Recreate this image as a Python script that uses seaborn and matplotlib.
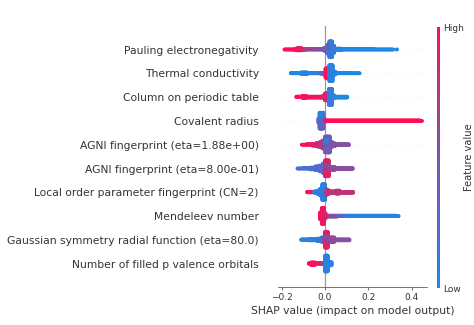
import numpy as np
import pandas as pd
import matplotlib
matplotlib.use("Agg")
import matplotlib.pyplot as plt
from matplotlib.colors import LinearSegmentedColormap, Normalize
from matplotlib.cm import ScalarMappable
import seaborn as sns

# Features, most important first
features = [
    "Pauling electronegativity",
    "Thermal conductivity",
    "Column on periodic table",
    "Covalent radius",
    "AGNI fingerprint (eta=1.88e+00)",
    "AGNI fingerprint (eta=8.00e-01)",
    "Local order parameter fingerprint (CN=2)",
    "Mendeleev number",
    "Gaussian symmetry radial function (eta=80.0)",
    "Number of filled p valence orbitals",
]

# SHAP-value density per feature:
# (shap_from, shap_to, samples per step, normalized feature value 0=low 1=high)
pauling = [
    (-0.188, -0.14, 1, 1.0), (-0.14, -0.13, 3, 1.0), (-0.13, -0.105, 6, 0.95),
    (-0.105, -0.09, 3, 0.85), (-0.09, -0.05, 2, 0.7), (-0.05, -0.005, 2, 0.55),
    (-0.005, 0.01, 8, 0.4), (0.01, 0.02, 22, 0.3),
    (0.02, 0.035, 28, 0.1), (0.02, 0.035, 12, 0.45),
    (0.035, 0.045, 18, 0.1), (0.045, 0.08, 4, 0.05), (0.08, 0.23, 2, 0.0),
    (0.23, 0.318, 1, 0.0), (0.33, 0.335, 1, 0.0),
]
thermal = [
    (-0.157, -0.11, 2, 0.0), (-0.11, -0.08, 5, 0.02), (-0.08, -0.02, 2, 0.05),
    (-0.02, 0.003, 3, 0.3), (0.003, 0.02, 24, 1.0),
    (0.02, 0.038, 40, 0.05), (0.038, 0.05, 8, 0.05),
    (0.05, 0.12, 2, 0.0), (0.12, 0.163, 1, 0.0),
]
column = [
    (-0.132, -0.105, 2, 1.0), (-0.105, -0.085, 6, 1.0), (-0.085, -0.01, 3, 0.95),
    (-0.01, 0.0, 6, 0.85), (0.0, 0.018, 18, 0.85),
    (0.018, 0.035, 40, 0.1), (0.035, 0.045, 8, 0.05), (0.045, 0.105, 3, 0.0),
]
covalent = [
    (-0.03, -0.025, 12, 0.3),
    (-0.025, -0.005, 20, 0.35), (-0.025, -0.005, 20, 0.1),
    (-0.005, 0.0, 12, 0.3), (0.0, 0.44, 2, 1.0), (0.44, 0.45, 1, 1.0),
]
agni_188 = [
    (-0.108, -0.085, 1, 1.0), (-0.085, -0.06, 2, 0.95), (-0.06, -0.04, 5, 0.9),
    (-0.04, -0.025, 9, 0.85), (-0.025, -0.012, 13, 0.8), (-0.012, 0.0, 20, 0.7),
    (0.0, 0.025, 22, 0.45), (0.0, 0.025, 18, 0.1),
    (0.025, 0.035, 14, 0.4), (0.035, 0.05, 7, 0.5), (0.05, 0.112, 3, 0.55),
]
agni_080 = [
    (-0.128, -0.1, 1, 0.2), (-0.1, -0.07, 2, 0.2), (-0.07, -0.045, 5, 0.2),
    (-0.045, -0.025, 10, 0.2), (-0.025, -0.01, 15, 0.25), (-0.01, 0.0, 24, 0.3),
    (0.0, 0.02, 25, 0.9), (0.0, 0.02, 15, 0.6),
    (0.02, 0.05, 7, 0.6), (0.05, 0.13, 3, 0.55),
]
local_order = [
    (-0.082, -0.05, 2, 1.0), (-0.05, -0.035, 4, 0.1), (-0.035, -0.022, 9, 0.05),
    (-0.022, -0.012, 18, 0.05), (-0.012, 0.003, 40, 0.05),
    (0.003, 0.012, 14, 0.55), (0.012, 0.025, 8, 0.85), (0.025, 0.05, 5, 0.75),
    (0.05, 0.07, 8, 0.8), (0.07, 0.133, 3, 0.8),
]
mendeleev = [
    (-0.022, -0.016, 18, 0.95), (-0.016, -0.002, 40, 0.95), (-0.002, 0.004, 14, 0.9),
    (0.004, 0.025, 3, 0.85), (0.025, 0.06, 3, 0.5), (0.06, 0.1, 2, 0.3),
    (0.1, 0.33, 2, 0.03), (0.33, 0.342, 1, 0.03),
]
gaussian = [
    (-0.11, -0.075, 2, 0.05), (-0.075, -0.035, 4, 0.05), (-0.035, -0.015, 7, 0.1),
    (-0.015, 0.0, 12, 0.3),
    (0.0, 0.016, 25, 0.9), (0.0, 0.016, 15, 0.55),
    (0.016, 0.045, 12, 0.6), (0.045, 0.115, 3, 0.55),
]
p_orbitals = [
    (-0.074, -0.066, 2, 1.0), (-0.066, -0.045, 7, 1.0), (-0.045, -0.015, 2, 0.95),
    (-0.015, 0.001, 3, 0.7), (0.001, 0.016, 40, 0.05), (0.016, 0.032, 9, 0.05),
]

rows = [pauling, thermal, column, covalent, agni_188, agni_080,
        local_order, mendeleev, gaussian, p_orbitals]

xticks = [-0.2, 0.0, 0.2, 0.4]

STEP = 0.0025
ROW_HEIGHT = 0.4
AXIS_COLOR = "#333333"

cmap = LinearSegmentedColormap.from_list(
    "red_blue",
    ["#1e88e5", "#5868cc", "#7a55a8", "#b23a80", "#ff0d57"],
)

# Beeswarm layout: pile samples sharing a SHAP step alternately above/below the row
records = []
n = len(features)
for i, (name, segs) in enumerate(zip(features, rows)):
    pos = n - 1 - i
    groups = {}
    for order, (lo, hi, count, level) in enumerate(segs):
        for k in range(int(round(lo / STEP)), int(round(hi / STEP))):
            for r in range(count):
                groups.setdefault(k, []).append((r, order, level))
    pts = []
    for k in sorted(groups):
        stack = sorted(groups[k], key=lambda t: (t[0], t[1]))
        for layer, (_, _, level) in enumerate(stack):
            offset = np.ceil(layer / 2) * ((layer % 2) * 2 - 1)
            pts.append((k * STEP, offset, level))
    pts = np.array(pts)
    scale = 0.9 * ROW_HEIGHT / np.max(pts[:, 1] + 1)
    for x, off, level in pts:
        records.append((name, x, pos + off * scale, level))

df = pd.DataFrame(records, columns=["feature", "shap", "y", "level"])

fig = plt.figure(figsize=(8, 5.4855), dpi=59.25)
ax = fig.add_axes([278.3 / 474, 37.5 / 325, 148.4 / 474, 261.8 / 325])

for p in range(n):
    ax.axhline(y=p, color="#cccccc", lw=0.5, dashes=(1, 5), zorder=-1)
ax.axvline(x=0, color="#999999", zorder=-1)

sns.scatterplot(data=df, x="shap", y="y", hue="level", palette=cmap,
                hue_norm=(0, 1), s=20, linewidth=0, legend=False,
                ax=ax, rasterized=True)

ax.set_xlim(-0.2155, 0.469)
ax.set_ylim(-1, n)
ax.set_yticks(range(n))
ax.set_yticklabels(features[::-1], fontsize=13)
ax.set_xticks(xticks)
ax.tick_params(axis="y", length=0, pad=23.5, labelcolor=AXIS_COLOR)
ax.tick_params(axis="x", labelsize=11, color=AXIS_COLOR, labelcolor=AXIS_COLOR)
ax.set_xlabel("SHAP value (impact on model output)", fontsize=13, color=AXIS_COLOR)
ax.set_ylabel("")
for side in ("top", "right", "left"):
    ax.spines[side].set_visible(False)
ax.spines["bottom"].set_color(AXIS_COLOR)

cax = fig.add_axes([437 / 474, 37 / 325, 3 / 474, 261 / 325])
cb = fig.colorbar(ScalarMappable(norm=Normalize(0, 1), cmap=cmap), cax=cax, ticks=[0, 1])
cb.set_ticklabels(["Low", "High"])
cb.ax.tick_params(labelsize=11, length=0, labelcolor=AXIS_COLOR)
cb.set_label("Feature value", size=12, labelpad=0, color=AXIS_COLOR)
cb.outline.set_visible(False)

fig.savefig("out.png", dpi=59.25)
